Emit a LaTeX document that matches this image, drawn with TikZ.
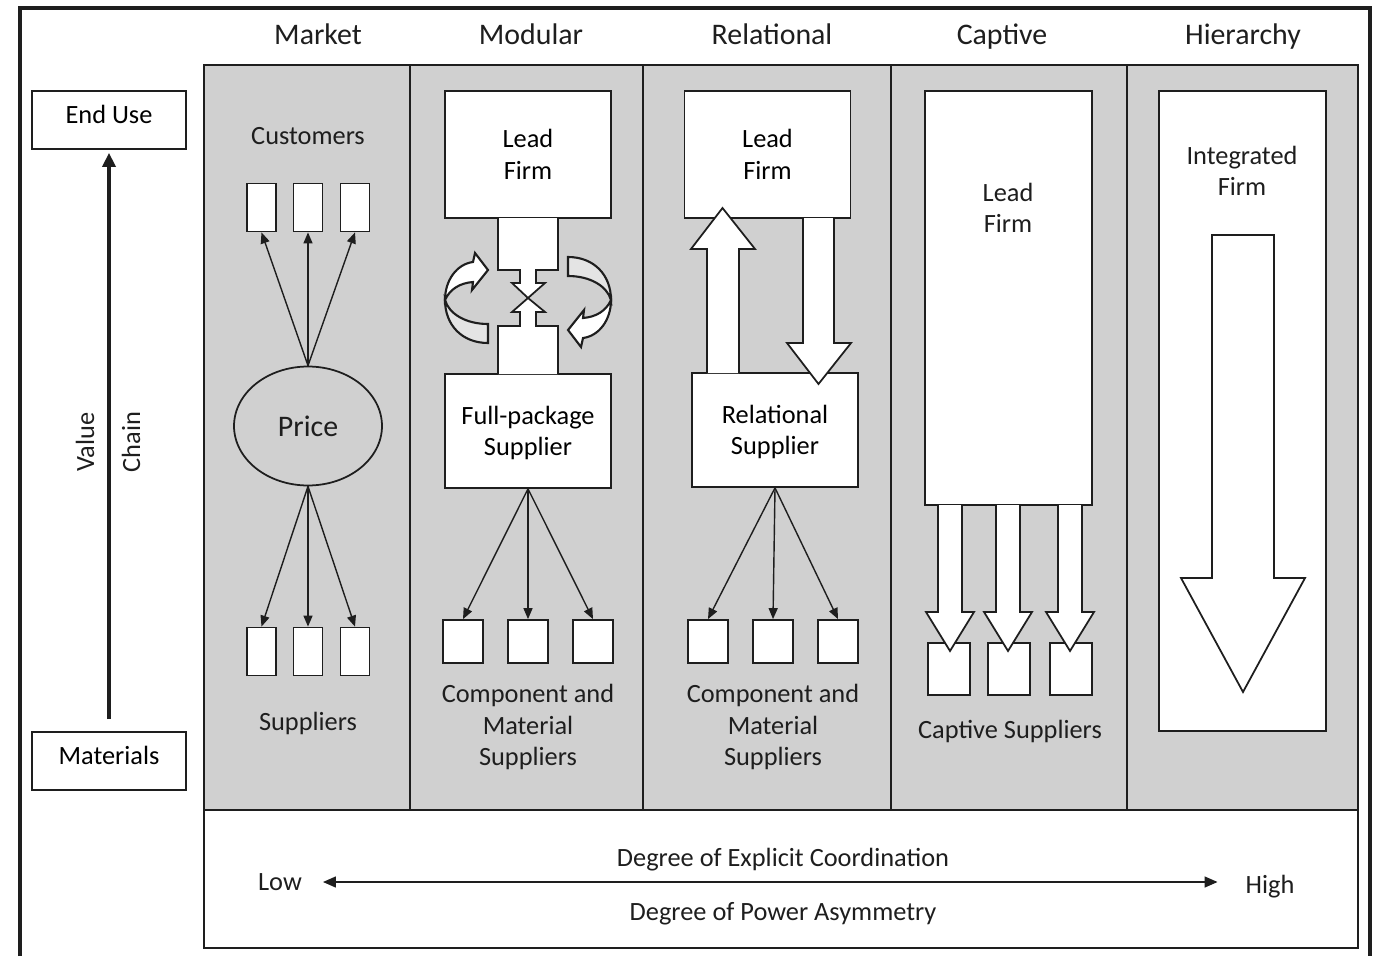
\documentclass[tikz,border=0pt]{standalone}
\usepackage{fontspec}
\setmainfont{Carlito}
\usepackage{xcolor}
\definecolor{panelgray}{RGB}{208,208,208}
\definecolor{backgray}{RGB}{228,228,228}
\definecolor{inkgray}{RGB}{30,30,30}
\usetikzlibrary{positioning, shapes.geometric, arrows.meta}
\newcommand{\bodyfont}{\fontsize{15}{18}\selectfont}
\newcommand{\hdrfont}{\fontsize{17}{20}\selectfont}

\begin{document}
\begin{tikzpicture}[x=0.02cm, y=-0.02cm,
    box/.style={rectangle, draw=inkgray, fill=white, line width=1pt, inner sep=0pt,
                align=center, font=\bodyfont, text depth=0pt},
    tinybox/.style={box, minimum width=0.58cm, minimum height=0.96cm},
    compbox/.style={box, minimum width=0.80cm, minimum height=0.86cm},
    capbox/.style={box, minimum width=0.84cm, minimum height=1.04cm},
    firmbox/.style={box, minimum width=3.32cm, minimum height=2.54cm},
    suppbox/.style={box, minimum width=3.32cm, minimum height=2.28cm},
    endbox/.style={box, minimum width=3.08cm, minimum height=1.16cm, text depth=0.22cm},
    lbl/.style={font=\bodyfont, align=center, inner sep=1pt, text=inkgray, text depth=0pt},
    hdr/.style={font=\hdrfont, inner sep=0pt, text=inkgray, anchor=base},
    arr/.style={-{Triangle[length=2.2mm, width=1.8mm]}, line width=0.8pt, inkgray},
    dblarr/.style={{Triangle[length=2.6mm, width=2.2mm]}-{Triangle[length=2.6mm, width=2.2mm]},
                   line width=0.8pt, inkgray},
    vcarr/.style={-{Triangle[length=2.8mm, width=2.6mm]}, line width=2pt, inkgray},
    fatarr/.style={draw=inkgray, fill=white, line width=1pt, line join=miter},
    backface/.style={draw=inkgray, fill=backgray, line width=1.2pt},
    frontface/.style={draw=inkgray, fill=white, line width=1.2pt, line join=miter},
  ]
    \useasboundingbox (0,0) rectangle (1378,956);

    % --- frame, panels ---
    \draw[inkgray, line width=2.3pt, line join=miter] (20,956) -- (20,8) -- (1370,8) -- (1370,956);
    \draw[inkgray, fill=panelgray, line width=0.8pt] (204,65) rectangle (1358,810);
    \foreach \x in {410,643,891,1127}
      \draw[inkgray, line width=0.8pt] (\x,65) -- (\x,810);
    \draw[inkgray, fill=white, line width=0.8pt] (204,810) rectangle (1358,948);

    % --- column headers ---
    \foreach \x/\t in {318/Market, 531/Modular, 772/Relational, 1002/Captive, 1243/Hierarchy}
      \node[hdr] (hdr-\t) at (\x,45) {\t};

    % --- value chain (left) ---
    \node[endbox] (enduse)    at (109,120) {End Use};
    \node[endbox] (materials) at (109,761) {Materials};
    \draw[vcarr, shorten <=0.24cm, shorten >=0.06cm] (materials.north) -- (enduse.south);
    \node[lbl, rotate=90] (valuelbl) at (85,442)  {Value};
    \node[lbl, rotate=90] (chainlbl) at (131,442) {Chain};

    % --- Market ---
    \node[lbl] (customers) at (308,136) {Customers};
    \node[tinybox] (cu1) at (261.5,207.5) {};
    \node[tinybox] (cu2) at (308,207.5)   {};
    \node[tinybox] (cu3) at (355,207.5)   {};
    \node[ellipse, draw=inkgray, line width=1pt, minimum width=2.96cm, minimum height=2.38cm,
          font=\hdrfont, text=inkgray] (price) at (308,426) {Price};
    \node[tinybox] (su1) at (261.5,651.5) {};
    \node[tinybox] (su2) at (308,651.5)   {};
    \node[tinybox] (su3) at (355,651.5)   {};
    \node[lbl] (suppliers) at (308,721) {Suppliers};
    \foreach \i in {1,2,3} {
      \draw[arr] (price.north) -- (cu\i.south);
      \draw[arr] (price.south) -- (su\i.north);
    }

    % --- Modular ---
    \node[firmbox] (mlead) at (528,154.5) {Lead\\Firm};
    \node[suppbox] (mfull) at (528,431)   {Full-package\\Supplier};
    \draw[fatarr] (498,218) -- (498,270) -- (520,270) -- (520,283) -- (512,283) -- (528,298)
                  -- (545,283) -- (536,283) -- (536,270) -- (558,270) -- (558,218);
    \draw[fatarr] (498,374) -- (498,326) -- (520,326) -- (520,312) -- (512,312) -- (528,298)
                  -- (545,312) -- (536,312) -- (536,326) -- (558,326) -- (558,374);
    \foreach \r in {0,180} {
      \begin{scope}[rotate around={\r:(528,300)}]
        \draw[backface] (488,343) .. controls (462,343) and (445,325) .. (445,300)
                        .. controls (449,314) and (466,324) .. (488,324) -- cycle;
        \draw[frontface] (445,300) .. controls (445,280) and (457,264) .. (473,262)
                         -- (475,253) -- (488,270) -- (472,290) -- (473,282)
                         .. controls (460,283) and (450,289) .. (445,300) -- cycle;
      \end{scope}
    }
    \node[compbox] (mc1) at (463,641.5) {};
    \node[compbox] (mc2) at (528,641.5) {};
    \node[compbox] (mc3) at (593,641.5) {};
    \foreach \i in {1,2,3}
      \draw[arr] (mfull.south) -- (mc\i.north);
    \node[lbl] (mcomp) at (528,725) {Component and\\Material\\Suppliers};

    % --- Relational ---
    \node[firmbox] (rlead) at (767.5,154.5) {Lead\\Firm};
    \node[suppbox] (rsupp) at (775,430)     {Relational\\Supplier};
    \draw[fatarr] (707,373) -- (707,249) -- (691,249) -- (722.5,208) -- (755,249) -- (739,249) -- (739,373);
    \draw[fatarr] (803,218) -- (803,343) -- (787,343) -- (818.5,384) -- (851,343) -- (834,343) -- (834,218);
    \node[compbox] (rc1) at (708,641.5) {};
    \node[compbox] (rc2) at (773,641.5) {};
    \node[compbox] (rc3) at (838,641.5) {};
    \foreach \i in {1,2,3}
      \draw[arr] (rsupp.south) -- (rc\i.north);
    \node[lbl] (rcomp) at (773,725) {Component and\\Material\\Suppliers};

    % --- Captive ---
    \node[box, minimum width=3.34cm, minimum height=8.28cm] (clead) at (1008.5,298) {};
    \node[lbl] (cleadlbl) at (1008,208) {Lead\\Firm};
    \node[capbox] (cs1) at (949,669)  {};
    \node[capbox] (cs2) at (1009,669) {};
    \node[capbox] (cs3) at (1071,669) {};
    \foreach \cx in {950,1008,1070}
      \draw[fatarr] (\cx-12,505) -- (\cx-12,612) -- (\cx-24,612) -- (\cx,651)
                    -- (\cx+24,612) -- (\cx+12,612) -- (\cx+12,505);
    \node[lbl] (captsupp) at (1010,729) {Captive Suppliers};

    % --- Hierarchy ---
    \node[box, minimum width=3.34cm, minimum height=12.8cm] (hfirm) at (1242.5,411) {};
    \node[lbl] (hfirmlbl) at (1242,171) {Integrated\\Firm};
    \draw[fatarr] (1212,235) -- (1212,578) -- (1181,578) -- (1243,692)
                  -- (1305,578) -- (1274,578) -- (1274,235) -- cycle;

    % --- coordination scale ---
    \node[lbl] (coord) at (783,857) {Degree of Explicit Coordination};
    \node[lbl] (asym)  at (783,911) {Degree of Power Asymmetry};
    \node[lbl] (low)   at (280,882) {Low};
    \node[lbl] (high)  at (1270,884) {High};
    \draw[dblarr, shorten <=0.38cm, shorten >=0.52cm] (low.east) -- (high.west |- low.east);
\end{tikzpicture}
\end{document}
